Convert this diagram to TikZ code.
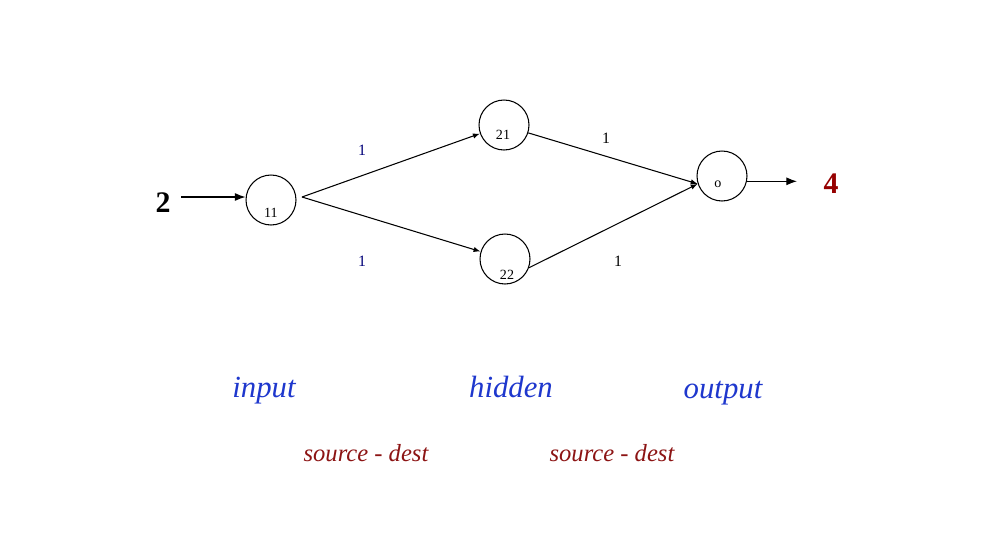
\documentclass[tikz,border=0pt]{standalone}
\usepackage{fontspec}
\setmainfont{Liberation Serif}
\usetikzlibrary{arrows.meta}
\definecolor{layerblue}{RGB}{30,55,205}
\definecolor{pairred}{RGB}{140,20,20}
\definecolor{outred}{RGB}{150,0,0}
\definecolor{weightblue}{RGB}{0,0,120}
\begin{document}
\begin{tikzpicture}[x=0.02cm, y=-0.02cm, line width=0.6pt,
        neuron/.style={draw, circle, minimum size=1cm, inner sep=0pt},
        num/.style={anchor=base, font=\fontsize{8}{10}\selectfont},
        weight/.style={anchor=base, font=\fontsize{9}{11}\selectfont},
        layer/.style={anchor=base, text=layerblue, font=\fontsize{17.5}{20}\selectfont\itshape},
        pair/.style={anchor=base, text=pairred, font=\fontsize{14}{17}\selectfont\itshape},
        big/.style={-{Latex[length=6pt,width=4.5pt]}},
        small/.style={-{Latex[length=4pt,width=3pt]}}]
                \useasboundingbox (0, 0) rectangle (988, 549);

                \node[neuron] (n11) at (271, 200) {};
                \node[neuron] (n21) at (504, 125) {};
                \node[neuron] (n22) at (505, 259) {};
                \node[neuron] (no) at (722, 176) {};

                \node[num] at (271, 217) {11};
                \node[num] at (503, 139) {21};
                \node[num] at (507, 279) {22};
                \node[num] at (718, 187) {o};

                \node[anchor=base, font=\fontsize{17}{20}\selectfont\bfseries] (x) at (163, 212) {2};
                \node[anchor=base, text=outred, font=\fontsize{17}{20}\selectfont\bfseries] (y) at (831, 193) {4};
                \coordinate (src) at (181, 197);
                \coordinate (fork) at (302, 197);
                \coordinate (dst) at (797, 181);

                \draw[big] (src) -- (n11.west |- src);
                \draw[small] (fork) -- (n21);
                \draw[small] (fork) -- (n22);
                \draw[small] (n21.-18) -- (no.198);
                \draw[small] (n22.-20) -- (no.198);
                \draw[big] (no.-12) -- (dst |- no.-12);

                \node[weight, text=weightblue] at (362, 155) {1};
                \node[weight, text=weightblue] at (362, 266) {1};
                \node[weight] at (606, 143) {1};
                \node[weight] at (618, 266) {1};

                \node[layer] at (264, 397) {input};
                \node[layer] at (511, 397) {hidden};
                \node[layer] at (723, 398) {output};

                \node[pair] at (366, 461) {source - dest};
                \node[pair] at (612, 461) {source - dest};
            \end{tikzpicture}
\end{document}
